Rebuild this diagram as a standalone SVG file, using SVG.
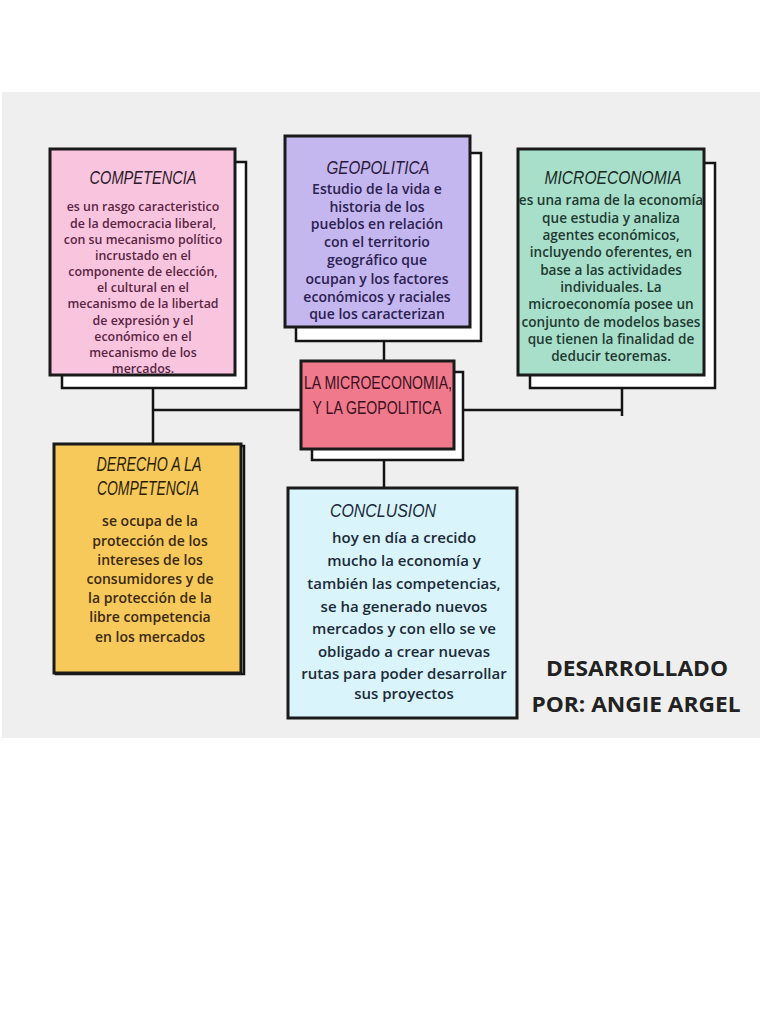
<svg xmlns="http://www.w3.org/2000/svg" width="768" height="1024" viewBox="0 0 768 1024">
<defs>
<style>
.shadow{fill:#ffffff;stroke:#141414;stroke-width:2.5}
.box{stroke:#1a1a1a;stroke-width:3}
.title{font-family:"Liberation Sans",Arial,sans-serif;font-style:italic;text-anchor:middle}
.ctitle{font-family:"Liberation Sans",Arial,sans-serif;text-anchor:middle}
.body{font-family:"Open Sans","Liberation Sans",sans-serif;font-weight:600;text-anchor:middle}
.conn{stroke:#141414;stroke-width:2.5;fill:none}
.credit{font-family:"Open Sans","Liberation Sans",sans-serif;font-weight:700;font-size:21px;fill:#222222;text-anchor:middle}
</style>
</defs>
<rect x="0" y="0" width="768" height="1024" fill="#ffffff"/>
<rect x="2" y="92" width="758" height="646" fill="#efefef"/>

<g id="connectors">
<line class="conn" x1="153" y1="388" x2="153" y2="444"/>
<line class="conn" x1="153" y1="410" x2="301" y2="410"/>
<line class="conn" x1="463" y1="410" x2="622" y2="410"/>
<line class="conn" x1="622" y1="388" x2="622" y2="416"/>
<line class="conn" x1="384" y1="342" x2="384" y2="361"/>
<line class="conn" x1="384" y1="460" x2="384" y2="488"/>
</g>

<g id="competencia">
<rect class="shadow" x="62" y="162" width="184" height="226"/>
<rect class="box" x="50" y="149" width="185" height="226" fill="#f9c5de"/>
<text class="title" x="143" y="184" font-size="19" textLength="107" lengthAdjust="spacingAndGlyphs" fill="#2a1a2a">COMPETENCIA</text>
<g class="body" font-size="12.4" fill="#5a2545">
<text x="143" y="211">es un rasgo caracteristico</text>
<text x="143" y="227.5">de la democracia liberal,</text>
<text x="143" y="243.5">con su mecanismo político</text>
<text x="143" y="259.5">incrustado en el</text>
<text x="143" y="275.5">componente de elección,</text>
<text x="143" y="292">el cultural en el</text>
<text x="143" y="308">mecanismo de la libertad</text>
<text x="143" y="324.5">de expresión y el</text>
<text x="143" y="340.5">económico en el</text>
<text x="143" y="357">mecanismo de los</text>
<text x="143" y="373">mercados.</text>
</g>
</g>

<g id="geopolitica">
<rect class="shadow" x="296" y="153" width="185" height="188"/>
<rect class="box" x="285" y="136" width="185" height="191" fill="#c4b6ef"/>
<text class="title" x="378" y="174" font-size="19" textLength="103" lengthAdjust="spacingAndGlyphs" fill="#2a1a3a">GEOPOLITICA</text>
<g class="body" font-size="14" fill="#2b2150">
<text x="377" y="194">Estudio de la vida e</text>
<text x="377" y="211.5">historia de los</text>
<text x="377" y="229">pueblos en relación</text>
<text x="377" y="247">con el territorio</text>
<text x="377" y="265">geográfico que</text>
<text x="377" y="283.5">ocupan y los factores</text>
<text x="377" y="301.5">económicos y raciales</text>
<text x="377" y="319">que los caracterizan</text>
</g>
</g>

<g id="microeconomia">
<rect class="shadow" x="530" y="163" width="185" height="225"/>
<rect class="box" x="518" y="149" width="186" height="226" fill="#a8dfcb"/>
<text class="title" x="613" y="184" font-size="19" textLength="137" lengthAdjust="spacingAndGlyphs" fill="#1a2a24">MICROECONOMIA</text>
<g class="body" font-size="13.6" fill="#1f3a30">
<text x="611" y="205">es una rama de la economía</text>
<text x="611" y="222.5">que estudia y analiza</text>
<text x="611" y="239.5">agentes económicos,</text>
<text x="611" y="257">incluyendo oferentes, en</text>
<text x="611" y="274.5">base a las actividades</text>
<text x="611" y="291.5">individuales. La</text>
<text x="611" y="309">microeconomía posee un</text>
<text x="611" y="326.5">conjunto de modelos bases</text>
<text x="611" y="344">que tienen la finalidad de</text>
<text x="611" y="361">deducir teoremas.</text>
</g>
</g>

<g id="centro">
<rect class="shadow" x="312" y="372" width="151" height="88"/>
<rect class="box" x="301" y="361" width="153" height="88" fill="#f07a8c"/>
<text class="ctitle" x="378" y="389" font-size="18" textLength="148" lengthAdjust="spacingAndGlyphs" fill="#3a1020">LA MICROECONOMIA,</text>
<text class="ctitle" x="377" y="414" font-size="18" textLength="129" lengthAdjust="spacingAndGlyphs" fill="#3a1020">Y LA GEOPOLITICA</text>
</g>

<g id="derecho">
<rect class="shadow" x="56" y="446" width="188" height="228"/>
<rect class="box" x="54" y="444" width="187" height="229" fill="#f7c95a"/>
<text class="title" x="149" y="471" font-size="20" textLength="105" lengthAdjust="spacingAndGlyphs" fill="#2a1e08">DERECHO A LA</text>
<text class="title" x="148" y="495" font-size="20" textLength="102" lengthAdjust="spacingAndGlyphs" fill="#2a1e08">COMPETENCIA</text>
<g class="body" font-size="14" fill="#3b2a10">
<text x="150" y="526">se ocupa de la</text>
<text x="150" y="545.5">protección de los</text>
<text x="150" y="565">intereses de los</text>
<text x="150" y="584">consumidores y de</text>
<text x="150" y="603">la protección de la</text>
<text x="150" y="622">libre competencia</text>
<text x="150" y="641.5">en los mercados</text>
</g>
</g>

<g id="conclusion">
<rect class="box" x="288" y="488" width="229" height="230" fill="#d9f4fb"/>
<text class="title" x="383" y="517" font-size="19" textLength="106" lengthAdjust="spacingAndGlyphs" fill="#1a2a3a">CONCLUSION</text>
<g class="body" font-size="15" fill="#1c2a38" font-weight="700">
<text x="404" y="543">hoy en día a crecido</text>
<text x="404" y="566">mucho la economía y</text>
<text x="404" y="589">también las competencias,</text>
<text x="404" y="612">se ha generado nuevos</text>
<text x="404" y="634">mercados y con ello se ve</text>
<text x="404" y="656.5">obligado a crear nuevas</text>
<text x="404" y="679">rutas para poder desarrollar</text>
<text x="404" y="698.5">sus proyectos</text>
</g>
</g>

<g id="credito">
<text class="credit" x="637" y="676" textLength="182" lengthAdjust="spacingAndGlyphs">DESARROLLADO</text>
<text class="credit" x="636" y="712" textLength="209" lengthAdjust="spacingAndGlyphs">POR: ANGIE ARGEL</text>
</g>
</svg>
